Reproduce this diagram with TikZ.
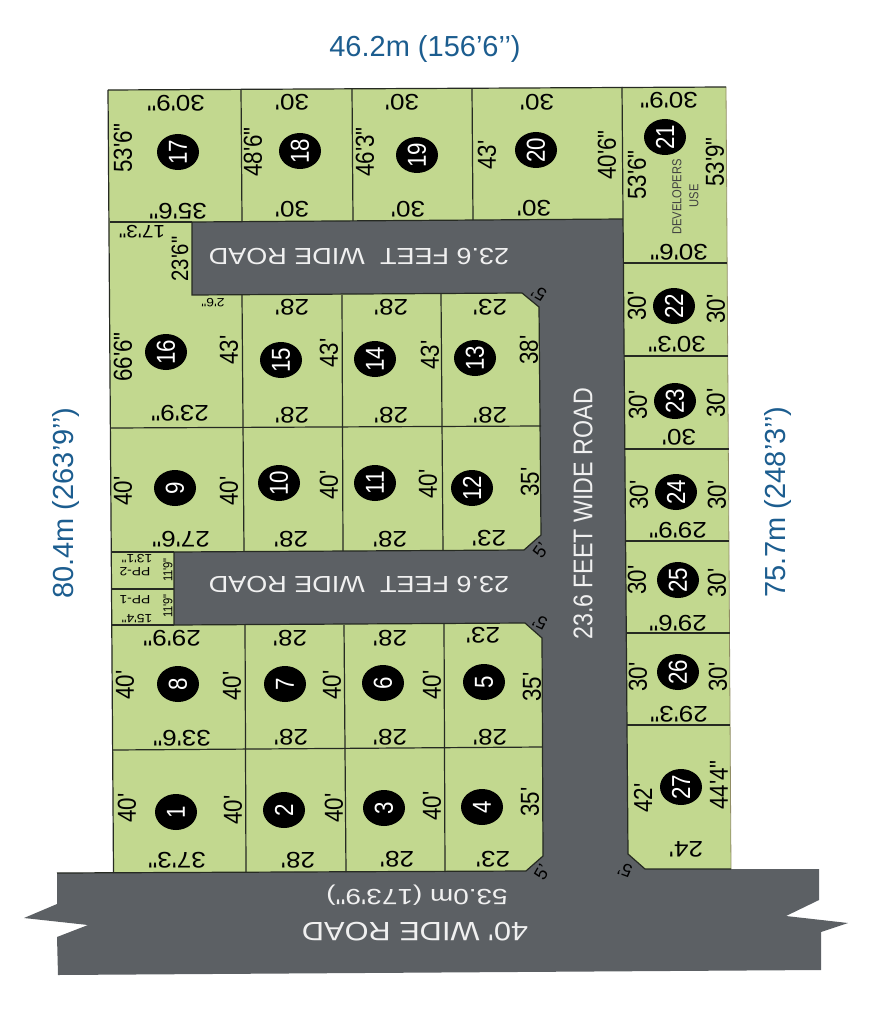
\documentclass[tikz,border=0pt]{standalone}
\usepackage{fontspec}
\setmainfont{Liberation Sans}
\newfontfamily\wideface[FakeStretch=1.16]{Liberation Sans}
\newfontfamily\narrowface[FakeStretch=0.86]{Liberation Sans}
\newfontfamily\widerface[FakeStretch=1.27]{Liberation Sans}
\usepackage[dvipsnames]{xcolor}
\usepackage{tikz}
\usetikzlibrary{shapes.geometric}
\definecolor{plotgreen}{HTML}{C2D88F}
\definecolor{roadgrey}{HTML}{5C6064}
\definecolor{lotline}{HTML}{262A22}
\definecolor{sideblue}{HTML}{1C5D8F}
\tikzset{
  hdim/.style={yshift=-1pt,rotate=180,inner sep=0pt,font=\wideface\fontsize{22.5}{22.5}\selectfont},
  vdim/.style={rotate=90,inner sep=0pt,font=\narrowface\fontsize{26}{26}\selectfont},
  hsmall/.style={rotate=180,inner sep=0pt,font=\wideface\fontsize{#1}{#1}\selectfont},
  vsmall/.style={rotate=90,inner sep=0pt,font=\narrowface\fontsize{#1}{#1}\selectfont},
  plotnum/.style={ellipse,fill=black,text=white,rotate=90,inner sep=0pt,minimum width=36pt,minimum height=42pt,font=\narrowface\fontsize{26}{26}\selectfont},
  roadh/.style={rotate=180,text=white!94!black,inner sep=0pt,font=\wideface\fontsize{23.3}{23.3}\selectfont},
  sidetext/.style={text=sideblue,inner sep=0pt,font=\fontsize{29}{29}\selectfont},
  chamfer/.style={inner sep=0pt,font=\fontsize{18}{18}\selectfont},
  lot/.style={draw=lotline,line width=1.2pt}
}
\begin{document}
\begin{tikzpicture}[x=1pt,y=-1pt]
  \useasboundingbox (0,0) rectangle (874,1024);
  \fill[plotgreen] (108,90) -- (726,87) -- (731,870) -- (113.5,873) -- cycle;
  \draw[draw=gray!70!olive,line width=0.8pt] (726,87) -- (731,870);
  \fill[roadgrey] (57,873) -- (526,871) -- (543,856) -- (542,638) -- (525,623) -- (174,625) -- (174,552)
    -- (524,550) -- (541,535) -- (539,307) -- (522,293) -- (192,295) -- (192,222) -- (623,219) -- (628,854)
    -- (645,869) -- (819,869) -- (819,900) -- (786,916) -- (848,923) -- (821,932) -- (821,970) -- (58,975)
    -- (57,937) -- (88,925) -- (24,918) -- (57,904) -- cycle;
  \draw[lot] (108,90) -- (726,87);
  \draw[lot] (108,90) -- (113.5,873);
  \draw[lot] (57,873) -- (526,871) -- (543,856) -- (542,638) -- (525,623) -- (174,625) -- (174,552)
    -- (524,550) -- (541,535) -- (539,307) -- (522,293) -- (192,295) -- (192,222) -- (623,219);
  \draw[lot] (110,222) -- (192,222);
  \draw[lot] (622,87) -- (628,854) -- (645,869) -- (731,869);
  \draw[lot] (241,89) -- (242,221);
  \draw[lot] (352,89) -- (353,221);
  \draw[lot] (472,89) -- (473,220);
  \draw[lot] (623,263) -- (727,263);
  \draw[lot] (624,356) -- (728,356);
  \draw[lot] (625,449) -- (729,449);
  \draw[lot] (626,541) -- (729,541);
  \draw[lot] (627,633) -- (730,633);
  \draw[lot] (627,725) -- (730,725);
  \draw[lot] (111,428) -- (541,426);
  \draw[lot] (242,295) -- (244,551);
  \draw[lot] (342,295) -- (343,551);
  \draw[lot] (441,294) -- (443,550);
  \draw[lot] (112,589) -- (174,589);
  \draw[lot] (112,552) -- (174,552);
  \draw[lot] (112,625) -- (174,625);
  \draw[lot] (113,750) -- (542,747);
  \draw[lot] (245,625) -- (246,872);
  \draw[lot] (344,625) -- (346,872);
  \draw[lot] (444,624) -- (445,872);

  \node[sidetext] (topw) at (425,49) {46.2m (156’6’’)};
  \node[sidetext,rotate=90] (leftw) at (66,503) {80.4m (263’9’’)};
  \node[sidetext,rotate=90] (rightw) at (778,502) {75.7m (248’3’’)};

  \node[roadh] (road1) at (359,257) {23.6 FEET\ \ WIDE ROAD};
  \node[roadh] (road2) at (359,585) {23.6 FEET\ \ WIDE ROAD};
  \node[rotate=90,text=white!94!black,inner sep=0pt,font=\narrowface\fontsize{27}{27}\selectfont] (road3) at (583,514) {23.6 FEET WIDE ROAD};
  \node[rotate=180,text=white!94!black,inner sep=0pt,font=\widerface\fontsize{22}{22}\selectfont] (main1) at (417,895) {53.0m (173'9")};
  \node[rotate=180,text=white!94!black,inner sep=0pt,font=\wideface\fontsize{26.5}{26.5}\selectfont] (main2) at (415,932) {40' WIDE ROAD};

  \node[chamfer,rotate=150] (c1) at (539,293) {5'};
  \node[chamfer,rotate=55] (c2) at (541,550) {5'};
  \node[chamfer,rotate=155] (c3) at (540,622) {5'};
  \node[chamfer,rotate=60] (c4) at (542,872) {5'};
  \node[chamfer,rotate=160] (c5) at (625,870) {5'};

  \node[plotnum] (17n) at (178,152) {17};
  \node[hdim] (17t) at (176,102) {30'9"};
  \node[hdim] (17b) at (178,210) {35'6"};
  \node[vdim] (17l) at (123,148) {53'6"};

  \node[plotnum] (18n) at (300,151) {18};
  \node[hdim] (18t) at (292,101) {30'};
  \node[hdim] (18b) at (292,208) {30'};
  \node[vdim] (18l) at (253,152) {48'6"};

  \node[plotnum] (19n) at (417,155) {19};
  \node[hdim] (19t) at (402,101) {30'};
  \node[hdim] (19b) at (408,208) {30'};
  \node[vdim] (19l) at (365,152) {46'3"};

  \node[plotnum] (20n) at (536,150) {20};
  \node[hdim] (20t) at (537,101) {30'};
  \node[hdim] (20b) at (534,207) {30'};
  \node[vdim] (20l) at (487,155) {43'};
  \node[vdim] (20r) at (607,155) {40'6"};

  \node[plotnum] (21n) at (665,137) {21};
  \node[hdim] (21t) at (669,99) {30'9"};
  \node[hdim] (21b) at (679,251) {30'6"};
  \node[vdim] (21l) at (637,175) {53'6"};
  \node[vdim] (21r) at (715,162) {53'9"};
  \node[vsmall=13,text=black!75] (21u1) at (677,197) {DEVELOPERS};
  \node[vsmall=13,text=black!75] (21u2) at (694,196) {USE};

  \node[plotnum] (22n) at (674,306) {22};
  \node[hdim] (22b) at (677,343) {30'3"};
  \node[vdim] (22l) at (637,306) {30'};
  \node[vdim] (22r) at (716,309) {30'};

  \node[plotnum] (23n) at (675,401) {23};
  \node[hdim] (23b) at (679,436) {30'};
  \node[vdim] (23l) at (638,405) {30'};
  \node[vdim] (23r) at (716,403) {30'};

  \node[plotnum] (24n) at (676,492) {24};
  \node[hdim] (24b) at (678,529) {29'9"};
  \node[vdim] (24l) at (639,495) {30'};
  \node[vdim] (24r) at (717,495) {30'};

  \node[plotnum] (25n) at (678,580) {25};
  \node[hdim] (25b) at (678,622) {29'6"};
  \node[vdim] (25l) at (637,580) {30'};
  \node[vdim] (25r) at (717,583) {30'};

  \node[plotnum] (26n) at (678,672) {26};
  \node[hdim] (26b) at (679,713) {29'3"};
  \node[vdim] (26l) at (638,677) {30'};
  \node[vdim] (26r) at (718,677) {30'};

  \node[plotnum] (27n) at (681,787) {27};
  \node[hdim] (27b) at (686,848) {24'};
  \node[vdim] (27l) at (643,798) {42'};
  \node[vdim] (27r) at (719,785) {44'4"};

  \node[plotnum] (16n) at (166,352) {16};
  \node[hsmall=18] (16t) at (142,232) {17'3"};
  \node[vsmall=23.7] (16i) at (180,259) {23'6"};
  \node[hsmall=12] (16s) at (213,303) {2'6"};
  \node[vdim] (16l) at (123,357) {66'6"};
  \node[vdim] (16r) at (229,350) {43'};
  \node[hdim] (16b) at (180,412) {23'9"};

  \node[plotnum] (15n) at (281,360) {15};
  \node[hdim] (15t) at (292,306) {28'};
  \node[vdim] (15r) at (329,353) {43'};
  \node[hdim] (15b) at (292,414) {28'};

  \node[plotnum] (14n) at (375,359) {14};
  \node[hdim] (14t) at (391,306) {28'};
  \node[vdim] (14r) at (430,355) {43'};
  \node[hdim] (14b) at (391,414) {28'};

  \node[plotnum] (13n) at (475,358) {13};
  \node[hdim] (13t) at (490,306) {23'};
  \node[vdim] (13r) at (529,350) {38'};
  \node[hdim] (13b) at (490,414) {28'};

  \node[plotnum] (9n) at (175,488) {9};
  \node[vdim] (9l) at (123,491) {40'};
  \node[vdim] (9r) at (229,491) {40'};
  \node[hdim] (9b) at (181,538) {27'6"};

  \node[plotnum] (10n) at (279,483) {10};
  \node[vdim] (10r) at (329,485) {40'};
  \node[hdim] (10b) at (291,538) {28'};

  \node[plotnum] (11n) at (375,483) {11};
  \node[vdim] (11r) at (428,484) {40'};
  \node[hdim] (11b) at (390,538) {28'};

  \node[plotnum] (12n) at (472,488) {12};
  \node[vdim] (12r) at (530,482) {35'};
  \node[hdim] (12b) at (489,537) {23'};

  \node[hsmall=12] (p2t) at (137,559) {13'1"};
  \node[hsmall=12] (p2n) at (135,572) {PP-2};
  \node[vsmall=13] (p2r) at (168,570) {11'9"};
  \node[hsmall=12] (p1n) at (135,600) {PP-1};
  \node[hsmall=12] (p1b) at (137,619) {15'4"};
  \node[vsmall=13] (p1r) at (168,606) {11'9"};

  \node[plotnum] (8n) at (178,684) {8};
  \node[hdim] (8t) at (172,637) {29'9"};
  \node[vdim] (8l) at (125,685) {40'};
  \node[vdim] (8r) at (232,686) {40'};
  \node[hdim] (8b) at (182,737) {33'6"};

  \node[plotnum] (7n) at (285,684) {7};
  \node[hdim] (7t) at (290,637) {28'};
  \node[vdim] (7r) at (332,685) {40'};
  \node[hdim] (7b) at (291,736) {28'};

  \node[plotnum] (6n) at (383,683) {6};
  \node[hdim] (6t) at (390,637) {28'};
  \node[vdim] (6r) at (432,685) {40'};
  \node[hdim] (6b) at (390,736) {28'};

  \node[plotnum] (5n) at (484,682) {5};
  \node[hdim] (5t) at (483,634) {23'};
  \node[vdim] (5r) at (532,687) {35'};
  \node[hdim] (5b) at (490,736) {28'};

  \node[plotnum] (1n) at (176,812) {1};
  \node[vdim] (1l) at (127,808) {40'};
  \node[vdim] (1r) at (233,810) {40'};
  \node[hdim] (1b) at (177,859) {37'3"};

  \node[plotnum] (2n) at (284,810) {2};
  \node[vdim] (2r) at (334,808) {40'};
  \node[hdim] (2b) at (298,859) {28'};

  \node[plotnum] (3n) at (384,808) {3};
  \node[vdim] (3r) at (432,806) {40'};
  \node[hdim] (3b) at (397,858) {28'};

  \node[plotnum] (4n) at (482,807) {4};
  \node[vdim] (4r) at (530,802) {35'};
  \node[hdim] (4b) at (493,858) {23'};
\end{tikzpicture}
\end{document}
